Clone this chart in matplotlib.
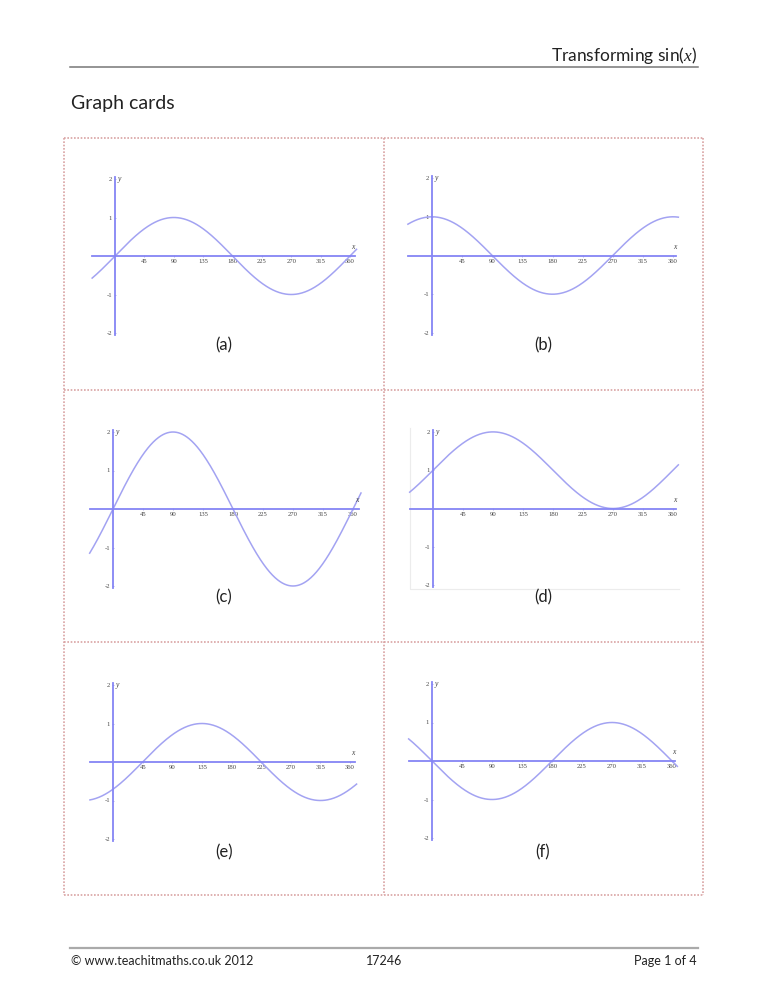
import numpy as np
import matplotlib
matplotlib.use("Agg")
import matplotlib.pyplot as plt

# ---------------- data ----------------
card_labels = ["(a)", "(b)", "(c)", "(d)", "(e)", "(f)"]
# y = amplitude * sin(x + phase) + shift   (degrees)
amplitudes = [1, 1, 2, 1, 1, -1]
phases = [0, 90, 0, 0, -45, 0]
shifts = [0, 0, 0, 1, 0, 0]
x_ticks = [45, 90, 135, 180, 225, 270, 315, 360]
x_tick_labels = ["45", "90", "135", "180", "225", "270", "315", "360"]
y_ticks = [-2, -1, 1, 2]
y_tick_labels = ["-2", "-1", "1", "2"]

header_text = "Transforming sin($x$)"
title_text = "Graph cards"
footer_left = "\u00a9 www.teachitmaths.co.uk 2012"
footer_mid = "17246"
footer_right = "Page 1 of 4"

# ---------------- style ----------------
W, H = 768, 994
plt.rcParams["axes.unicode_minus"] = False
plt.rcParams["mathtext.fontset"] = "custom"
plt.rcParams["mathtext.it"] = "Liberation Serif:italic"
plt.rcParams["mathtext.rm"] = "Lato"
SANS = ["Lato", "DejaVu Sans"]
SERIF = ["Liberation Serif", "DejaVu Serif"]
CURVE = "#a3a3f2"
AXIS = "#8585f5"
DOT = "#d9a3a3"

fig = plt.figure(figsize=(W / 100, H / 100), dpi=100)
page = fig.add_axes([0, 0, 1, 1])
page.set_xlim(0, W)
page.set_ylim(H, 0)
page.axis("off")

# header / footer
page.text(697, 55, header_text, ha="right", va="center", fontsize=12.5,
          family=SANS, color="#222222")
page.plot([70, 698], [67, 67], color="#777777", lw=1.1)
page.text(71, 103, title_text, ha="left", va="center", fontsize=14,
          family=SANS, color="#222222")
page.plot([70, 698], [948, 948], color="#aaaaaa", lw=1.6)
page.text(71, 961, footer_left, ha="left", va="center", fontsize=9, family=SANS, color="#222222")
page.text(384, 961, footer_mid, ha="center", va="center", fontsize=9, family=SANS, color="#222222")
page.text(697, 961, footer_right, ha="right", va="center", fontsize=9, family=SANS, color="#222222")

# dotted card grid
left_px, mid_px, right_px = 64, 384, 703
row_px = [138, 390, 642, 895]
ls = (0, (1.0, 1.0))
for yy in row_px:
    page.plot([left_px, right_px], [yy, yy], color=DOT, lw=1.2, ls=ls)
for xx in [left_px, mid_px, right_px]:
    page.plot([xx, xx], [row_px[0], row_px[-1]], color=DOT, lw=1.2, ls=ls)

# faint image frame on card (d)
page.plot([410, 410, 679], [428, 589, 589], color="#ececec", lw=0.8)

# graph placement: origin px, px/deg, px/unit, x range
layout = [
    (115, 256, 235 / 360, 38.5, -35, 370),
    (432, 255.5, 241 / 360, 38.7, -36, 368),
    (113, 509, 240 / 360, 38.5, -35, 372),
    (433, 508.5, 240 / 360, 38.3, -35, 368),
    (113, 762, 237 / 360, 38.5, -35, 370),
    (432, 761, 240 / 360, 38.5, -35, 368),
]
label_pos = [(224, 345), (543, 345), (224, 597), (543, 597), (224, 852), (543, 852)]

for i, (ox, oy, sx, sy, xlo, xhi) in enumerate(layout):
    ylo, yhi = -2.15, 2.15
    lpx = ox + xlo * sx
    rpx = ox + xhi * sx
    tpx = oy - yhi * sy
    bpx = oy - ylo * sy
    ax = fig.add_axes([lpx / W, 1 - bpx / H, (rpx - lpx) / W, (bpx - tpx) / H])
    ax.set_xlim(xlo, xhi)
    ax.set_ylim(ylo, yhi)
    ax.patch.set_alpha(0)
    for s in ["top", "right"]:
        ax.spines[s].set_visible(False)
    ax.spines["left"].set_position(("data", 0))
    ax.spines["bottom"].set_position(("data", 0))
    ax.spines["left"].set_bounds(-2.05, 2.05)
    ax.spines["bottom"].set_bounds(xlo, xhi - 3)
    for s in ["left", "bottom"]:
        ax.spines[s].set_color(AXIS)
        ax.spines[s].set_linewidth(1.3)
    ax.set_xticks(x_ticks)
    ax.set_xticklabels(x_tick_labels)
    ax.set_yticks(y_ticks)
    ax.set_yticklabels(y_tick_labels)
    ax.tick_params(direction="inout", length=2, width=0.5, color="#9a9ae0",
                   labelsize=4.8, labelcolor="#444444", pad=1.2)
    for lab in ax.get_xticklabels() + ax.get_yticklabels():
        lab.set_family(SERIF)
    xs = np.linspace(xlo, xhi, 500)
    ys = amplitudes[i] * np.sin(np.radians(xs + phases[i])) + shifts[i]
    ax.plot(xs, ys, color=CURVE, lw=1.1, clip_on=False)
    ax.text(4, 2.0, "y", fontsize=5.5, family=SERIF, style="italic", color="#444444",
            ha="left", va="center")
    ax.text(xhi - 6, 0.12, "x", fontsize=5.5, family=SERIF, style="italic", color="#444444",
            ha="center", va="bottom")
    page.text(label_pos[i][0], label_pos[i][1], card_labels[i], ha="center", va="center",
              fontsize=12, family=SANS, color="#222222")

fig.savefig("out.png", dpi=100)
